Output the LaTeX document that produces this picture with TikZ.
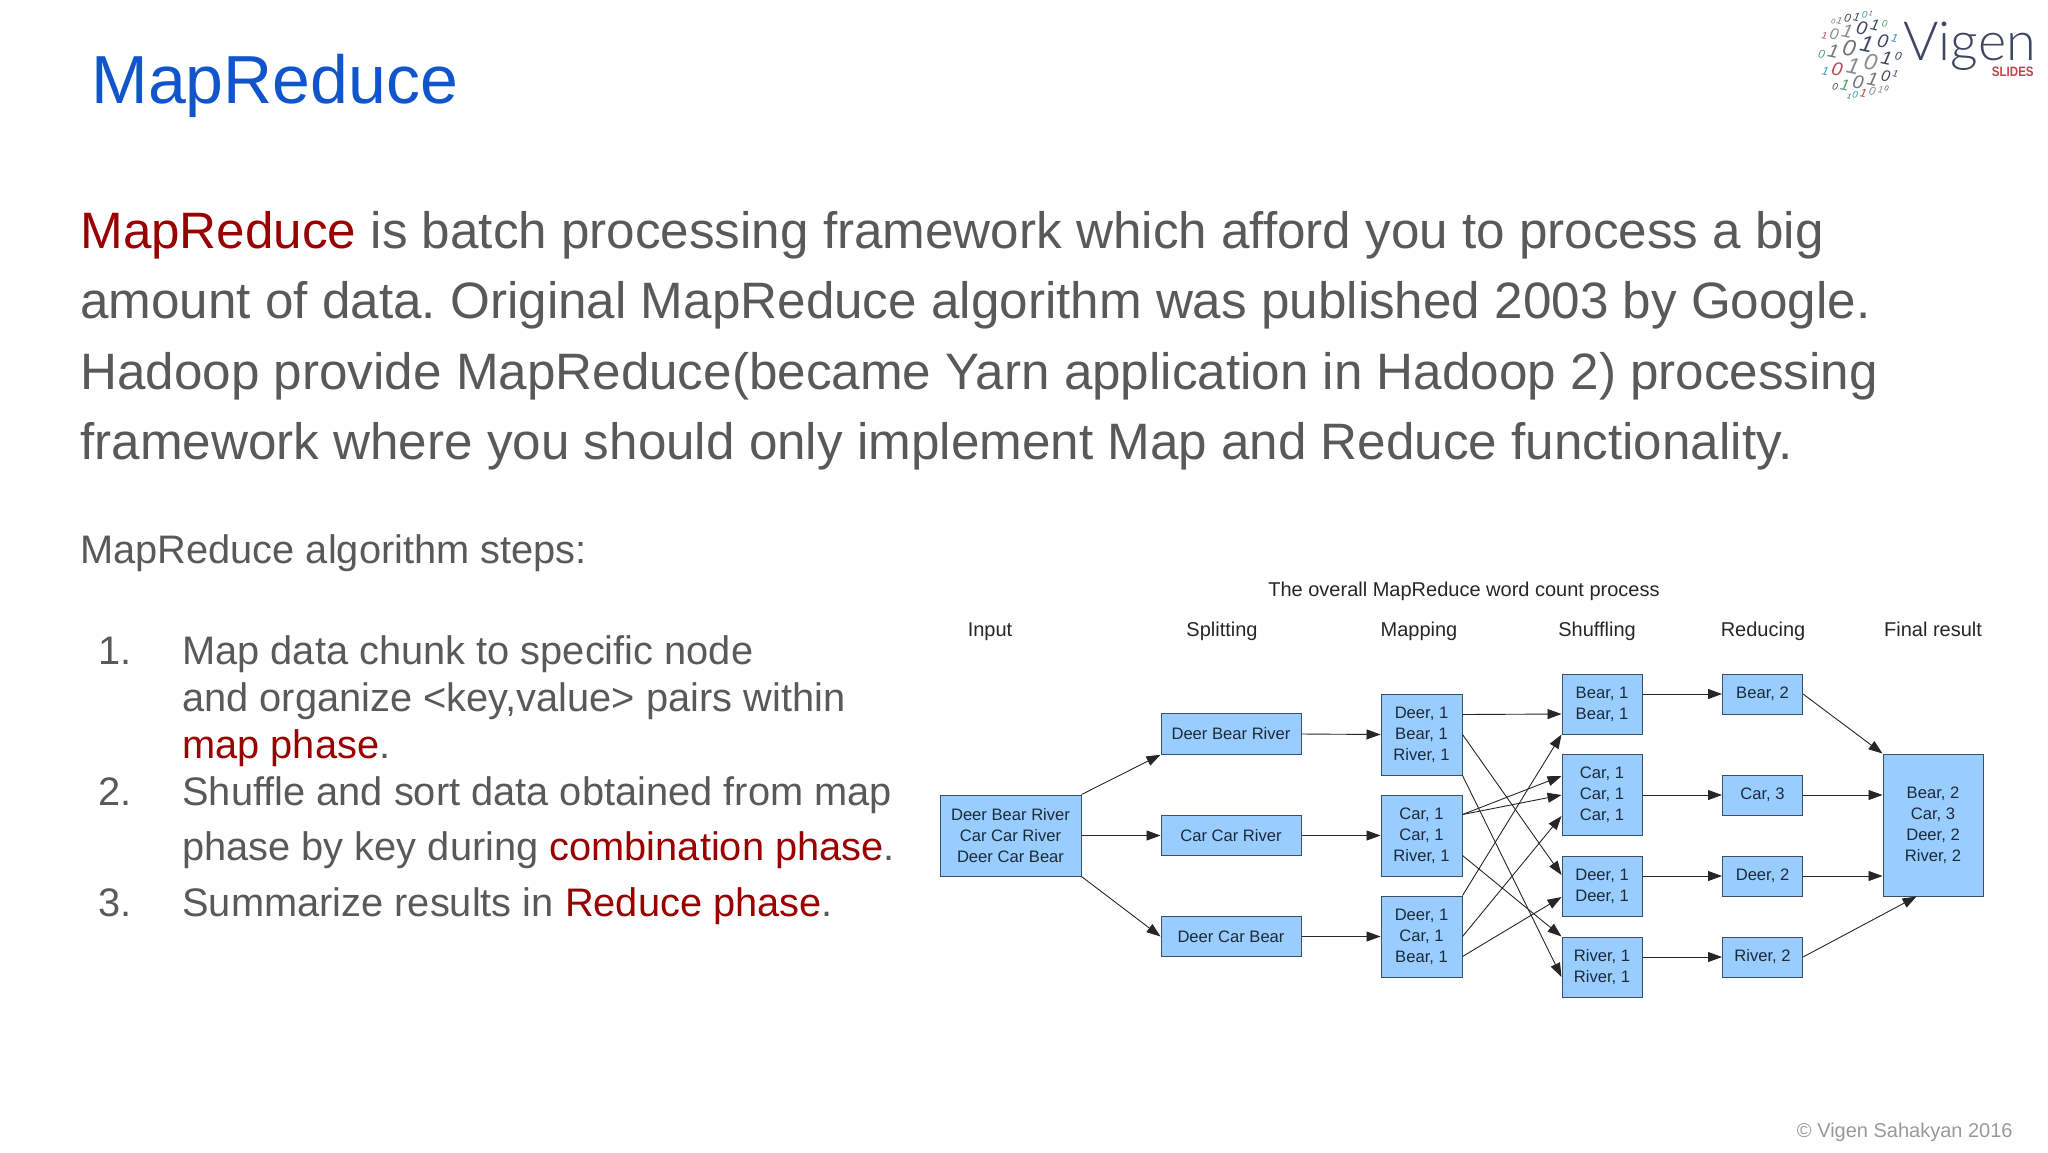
\documentclass[tikz,border=0pt]{standalone}
\usepackage{fontspec}
\setmainfont{Liberation Sans}
\newfontfamily\logofont{Lato}[UprightFont=* Light]
\usetikzlibrary{arrows.meta}
\frenchspacing
\definecolor{titleblue}{HTML}{1155CC}
\definecolor{bodygrey}{HTML}{595959}
\definecolor{phasered}{HTML}{990000}
\definecolor{boxblue}{HTML}{99CCFF}
\definecolor{boxline}{HTML}{3B4F66}
\definecolor{boxtext}{HTML}{1C2B3A}
\definecolor{logonavy}{HTML}{3D4763}
\definecolor{logored}{HTML}{B5484C}
\definecolor{logogreen}{HTML}{4FA36B}
\definecolor{logoteal}{HTML}{3C93B5}
\tikzset{
  bodyline/.style={anchor=base west,inner sep=0,text=bodygrey,font=\fontsize{25.6}{30}\selectfont},
  stepline/.style={anchor=base west,inner sep=0,text=bodygrey,font=\fontsize{19.9}{24}\selectfont},
  wordbox/.style={draw=boxline,fill=boxblue,line width=0.5pt,inner sep=0,align=center,text=boxtext,font=\fontsize{8.3}{10.5}\selectfont},
  phaselabel/.style={anchor=base,inner sep=0,text=black!85,font=\fontsize{10}{12}\selectfont},
  flow/.style={draw=black!85,line width=0.45pt,-{Triangle[length=7pt,width=5pt]}},
}
\begin{document}
\begin{tikzpicture}[x=0.5pt,y=-0.5pt]
  \useasboundingbox (0,0) rectangle (2048,1152);

  % Slide title
  \node[anchor=base west,inner sep=0,text=titleblue,font=\fontsize{34}{40}\selectfont] (title) at (91,103) {MapReduce};

  % Logo, digits on a sphere
  \foreach \lat [count=\r] in {-60,-36,-12,12,36,60} {
    \foreach \lon [count=\n] in {-60,-36,-12,12,36,60} {
      \pgfmathsetmacro{\px}{cos(\lat)*sin(\lon)}
      \pgfmathsetmacro{\py}{sin(\lat)}
      \pgfmathsetmacro{\sz}{max(0.3,cos(\lat)*cos(\lon))}
      \pgfmathtruncatemacro{\pick}{mod(\r*3+\n*5,11)}
      \pgfmathtruncatemacro{\bit}{mod(\r+\n,2)}
      \ifcase\pick \def\digcol{logored}\or \def\digcol{logonavy}\or \def\digcol{black!55}\or \def\digcol{logogreen}\or \def\digcol{logonavy}\or \def\digcol{black!45}\or \def\digcol{logoteal}\or \def\digcol{logonavy}\or \def\digcol{black!55}\or \def\digcol{logonavy}\else \def\digcol{black!45}\fi
      \node[inner sep=0,text=\digcol,scale=\sz,rotate=-12,font=\fontsize{12}{12}\itshape\selectfont] (dig\r\n)
        at ({1860+44*(\px*cos(12)+\py*sin(12))},{55+44*(\py*cos(12)-\px*sin(12))}) {\bit};
    }
  }
  \node[anchor=base west,inner sep=0,text=logonavy,font=\logofont\fontsize{27}{30}\selectfont] (vigen) at (1903,60) {Vigen};
  \node[anchor=base east,inner sep=0,text=logored,xscale=0.85,font=\bfseries\fontsize{6.8}{8}\selectfont] (slides) at (2034,76) {SLIDES};

  % Intro paragraph
  \node[bodyline] (introa) at (80,248) {\textcolor{phasered}{MapReduce} is batch processing framework which afford you to process a big};
  \node[bodyline] (introb) at (80,318) {amount of data. Original MapReduce algorithm was published 2003 by Google.};
  \node[bodyline] (introc) at (80,389) {Hadoop provide MapReduce(became Yarn application in Hadoop 2) processing};
  \node[bodyline] (introd) at (80,459) {framework where you should only implement Map and Reduce functionality.};

  % Steps
  \node[stepline] (stepshead) at (80,563) {MapReduce algorithm steps:};
  \node[stepline] (numa) at (98,664) {1.};
  \node[stepline] (stepa) at (182,664) {Map data chunk to specific node};
  \node[stepline] (stepb) at (182,711) {and organize <key,value> pairs within};
  \node[stepline] (stepc) at (182,758) {\textcolor{phasered}{map phase}.};
  \node[stepline] (numb) at (98,805) {2.};
  \node[stepline] (stepd) at (182,805) {Shuffle and sort data obtained from map};
  \node[stepline] (stepe) at (182,860) {phase by key during \textcolor{phasered}{combination phase}.};
  \node[stepline] (numc) at (98,916) {3.};
  \node[stepline] (stepf) at (182,916) {Summarize results in \textcolor{phasered}{Reduce phase}.};

  % Heading and column labels
  \node[phaselabel] (wordcount) at (1464,596) {The overall MapReduce word count process};
  \node[phaselabel] (lblinput) at (990,636) {Input};
  \node[phaselabel] (lblsplit) at (1222,636) {Splitting};
  \node[phaselabel] (lblmap) at (1419,636) {Mapping};
  \node[phaselabel] (lblshuf) at (1597,636) {Shuffling};
  \node[phaselabel] (lblred) at (1763,636) {Reducing};
  \node[phaselabel] (lblfinal) at (1933,636) {Final result};

  % Input and splitting
  \node[wordbox,minimum width=70.5pt,minimum height=40.5pt] (input) at (1010.5,835.5) {Deer Bear River\\Car Car River\\Deer Car Bear};
  \node[wordbox,minimum width=70pt,minimum height=20.25pt] (splita) at (1231,734) {Deer Bear River};
  \node[wordbox,minimum width=70pt,minimum height=20.25pt] (splitb) at (1231,835.5) {Car Car River};
  \node[wordbox,minimum width=70pt,minimum height=20.25pt] (splitc) at (1231,936.5) {Deer Car Bear};

  % Mapping
  \node[wordbox,minimum width=40.5pt,minimum height=40.5pt] (mapa) at (1421.5,734.5) {Deer, 1\\Bear, 1\\River, 1};
  \node[wordbox,minimum width=40.5pt,minimum height=40.5pt] (mapb) at (1421.5,835.5) {Car, 1\\Car, 1\\River, 1};
  \node[wordbox,minimum width=40.5pt,minimum height=40.5pt] (mapc) at (1421.5,936.5) {Deer, 1\\Car, 1\\Bear, 1};

  % Shuffling
  \node[wordbox,minimum width=40pt,minimum height=30pt] (shufbear) at (1602,704) {Bear, 1\\Bear, 1};
  \node[wordbox,minimum width=40pt,minimum height=40.5pt] (shufcar) at (1602,795) {Car, 1\\Car, 1\\Car, 1};
  \node[wordbox,minimum width=40pt,minimum height=30pt] (shufdeer) at (1602,886) {Deer, 1\\Deer, 1};
  \node[wordbox,minimum width=40pt,minimum height=30pt] (shufriver) at (1602,967) {River, 1\\River, 1};

  % Reducing
  \node[wordbox,minimum width=40pt,minimum height=20pt] (redbear) at (1762.5,694) {Bear, 2};
  \node[wordbox,minimum width=40pt,minimum height=20pt] (redcar) at (1762.5,795) {Car, 3};
  \node[wordbox,minimum width=40pt,minimum height=20pt] (reddeer) at (1762.5,876) {Deer, 2};
  \node[wordbox,minimum width=40pt,minimum height=20pt] (redriver) at (1762.5,957) {River, 2};

  % Final result
  \node[wordbox,minimum width=50pt,minimum height=71pt] (final) at (1933,825) {Bear, 2\\Car, 3\\Deer, 2\\River, 2};

  % Input to splitting to mapping
  \draw[flow] (input.north east) -- (splita.south west);
  \draw[flow] (input.east) -- (splitb.west);
  \draw[flow] (input.south east) -- (splitc.west);
  \draw[flow] (splita.east) -- (mapa.west);
  \draw[flow] (splitb.east) -- (mapb.west);
  \draw[flow] (splitc.east) -- (mapc.west);

  % Mapping to shuffling
  \draw[flow] ([yshift=10pt]mapa.east) -- ([yshift=-5pt]shufbear.west);
  \draw[flow] (mapa.east) -- ([yshift=5.5pt]shufdeer.west);
  \draw[flow] (mapa.south east) -- ([yshift=-5pt]shufriver.west);
  \draw[flow] ([yshift=10.5pt]mapb.east) -- ([yshift=9.5pt]shufcar.west);
  \draw[flow] ([yshift=10.5pt]mapb.east) -- (shufcar.west);
  \draw[flow] ([yshift=-10pt]mapb.east) -- (shufriver.north west);
  \draw[flow] (mapc.north east) -- (shufbear.south west);
  \draw[flow] (mapc.east) -- ([yshift=-10.5pt]shufcar.west);
  \draw[flow] ([yshift=-10pt]mapc.east) -- ([yshift=-5.5pt]shufdeer.west);

  % Shuffling to reducing to final
  \draw[flow] ([yshift=5pt]shufbear.east) -- (redbear.west);
  \draw[flow] (shufcar.east) -- (redcar.west);
  \draw[flow] ([yshift=5pt]shufdeer.east) -- (reddeer.west);
  \draw[flow] ([yshift=5pt]shufriver.east) -- (redriver.west);
  \draw[flow] (redbear.east) -- (final.north west);
  \draw[flow] (redcar.east) -- ([yshift=15pt]final.west);
  \draw[flow] (reddeer.east) -- ([yshift=-25.5pt]final.west);
  \draw[flow] (redriver.east) -- ([xshift=17pt]final.south west);

  % Footer
  \node[anchor=base east,inner sep=0,text=black!40,font=\fontsize{10}{12}\selectfont] (copyright) at (2013,1137) {© Vigen Sahakyan 2016};
\end{tikzpicture}
\end{document}
